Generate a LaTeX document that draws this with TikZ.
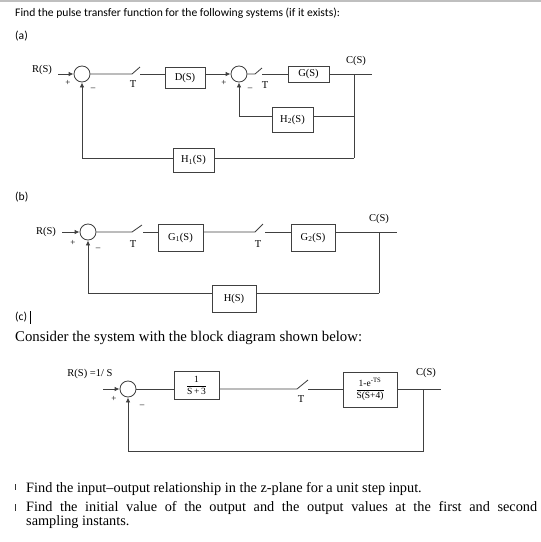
\documentclass[tikz,border=0pt]{standalone}
\usepackage{fontspec}
\setmainfont{Liberation Serif}
\newfontfamily\calfont{Carlito}
\usetikzlibrary{arrows.meta}
\begin{document}
\begin{tikzpicture}[x=1pt,y=-1pt,
 wire/.style={draw=black!75, line width=0.85pt},
 arr/.style={wire, -{Latex[length=5pt,width=4.5pt]}},
 blk/.style={draw=black!75, line width=0.85pt, inner sep=0pt, font=\fontsize{10.5}{11}\selectfont},
 sumc/.style={draw=black!75, line width=0.85pt, circle, minimum size=16pt, inner sep=0pt},
 lbl/.style={font=\fontsize{10.5}{12}\selectfont, inner sep=0pt},
 sgn/.style={font=\fontsize{9}{10}\selectfont, inner sep=0pt},
 caltext/.style={font=\calfont\fontsize{11.6}{13}\selectfont, anchor=base west, inner sep=0pt},
 bodytext/.style={font=\fontsize{14.3}{13.8}\selectfont, anchor=base west, inner sep=0pt}]
\useasboundingbox (0,0) rectangle (541,542);
\fill[black!25] (0,0) rectangle (541,2);

% ---------- header ----------
\node[caltext] (hdr) at (15,16.5) {Find the pulse transfer function for the following systems (if it exists):};
\node[caltext] (la) at (15,39) {(a)};

% ---------- diagram (a) ----------
\node[lbl] (Ra) at (42,70) {R(S)};
\coordinate (ina) at (58,74);
\node[sumc] (s1) at (82,74) {};
\node[sgn] (p1) at (68,83) {+};
\node[sgn] (m1) at (93,89) {--};
\coordinate (swa1) at (132,74);
\coordinate (swa1t) at (140,67);
\coordinate (swa1r) at (140,74);
\node[lbl] (Ta1) at (133,84) {T};
\node[blk, minimum width=40pt, minimum height=21pt] (D) at (185,77.5) {D(S)};
\node[sumc] (s2) at (239,74) {};
\node[sgn] (p2) at (224,83) {+};
\node[sgn] (m2) at (250,89) {--};
\coordinate (swa2) at (255,74);
\coordinate (swa2t) at (262,68);
\coordinate (swa2r) at (262,74);
\node[lbl] (Ta2) at (265,85) {T};
\node[blk, minimum width=41pt, minimum height=16pt] (G) at (308.5,74) {G(S)};
\coordinate (outa) at (372,74);
\coordinate (ja) at (354,74);
\coordinate (jb) at (354,116);
\coordinate (jc) at (354,158);
\node[lbl] (Ca) at (356,61) {C(S)};
\node[blk, minimum width=41pt, minimum height=25pt] (H2) at (292.5,119.5) {H\textsubscript{2}(S)};
\node[blk, minimum width=41pt, minimum height=24pt] (H1) at (193.5,160) {H\textsubscript{1}(S)};
\coordinate (fb2) at (239,116);
\coordinate (fb1) at (82,158);

\draw[arr] (ina) -- (s1);
\draw[wire] (s1) -- (swa1) -- (swa1t);
\draw[wire] (swa1r) -- (swa1r -| D.west);
\draw[arr] (D.east |- swa1r) -- (s2);
\draw[wire] (s2) -- (swa2) -- (swa2t);
\draw[wire] (swa2r) -- (G.west);
\draw[wire] (G.east) -- (outa);
\draw[wire] (ja) -- (jc);
\draw[wire] (jb) -- (jb -| H2.east);
\draw[wire] (H2.west |- jb) -- (fb2);
\draw[arr] (fb2) -- (s2);
\draw[wire] (jc) -- (jc -| H1.east);
\draw[wire] (H1.west |- jc) -- (fb1);
\draw[arr] (fb1) -- (s1);

% ---------- diagram (b) ----------
\node[caltext] (lb) at (15,200) {(b)};
\node[lbl] (Rb) at (46,232) {R(S)};
\coordinate (inb) at (62,232);
\node[sumc] (s3) at (88,232) {};
\node[sgn] (p3) at (73,243) {+};
\node[sgn] (m3) at (98,249) {--};
\coordinate (swb1) at (132,232);
\coordinate (swb1t) at (142,225);
\coordinate (swb1r) at (143,232);
\node[lbl] (Tb1) at (133,244) {T};
\node[blk, minimum width=45pt, minimum height=27pt] (G1) at (180.5,237.5) {G\textsubscript{1}(S)};
\coordinate (swb2) at (255,232);
\coordinate (swb2t) at (263,224);
\coordinate (swb2r) at (265,232);
\node[lbl] (Tb2) at (258,244) {T};
\node[blk, minimum width=44pt, minimum height=27pt] (G2) at (313,237.5) {G\textsubscript{2}(S)};
\coordinate (outb) at (397,232);
\coordinate (jd) at (379,232);
\coordinate (je) at (379,293);
\node[lbl] (Cb) at (379,219) {C(S)};
\node[blk, minimum width=44pt, minimum height=27pt] (H) at (234,298.5) {H(S)};
\coordinate (fb3) at (88,293);

\draw[arr] (inb) -- (s3);
\draw[wire] (s3) -- (swb1) -- (swb1t);
\draw[wire] (swb1r) -- (swb1r -| G1.west);
\draw[wire] (G1.east |- swb1r) -- (swb2) -- (swb2t);
\draw[wire] (swb2r) -- (swb2r -| G2.west);
\draw[wire] (G2.east |- swb2r) -- (outb);
\draw[wire] (jd) -- (je);
\draw[wire] (je) -- (je -| H.east);
\draw[wire] (H.west |- je) -- (fb3);
\draw[arr] (fb3) -- (s3);

% ---------- (c) ----------
\node[caltext] (lc) at (15,320) {(c)};
\draw[black, line width=0.7pt] (30.5,311) -- (30.5,323.5);
\node[bodytext, font=\fontsize{14.8}{15}\selectfont] (cons) at (15,341) {Consider the system with the block diagram shown below:};

\node[lbl] (Rc) at (90,374) {R(S) =1/ S};
\coordinate (inc) at (103,389);
\node[sumc] (s4) at (128,389) {};
\node[sgn] (p4) at (114,399) {+};
\node[sgn] (m4) at (142,406) {--};
\node[blk, minimum width=45pt, minimum height=28pt] (C1) at (196.5,385)
  {\fontsize{9.5}{10}\selectfont$\displaystyle\frac{\mbox{1}}{\mbox{S\,+\,3}}$};
\coordinate (swc) at (297,389);
\coordinate (swct) at (308,380);
\coordinate (swcr) at (308,389);
\node[lbl] (Tc) at (301,399) {T};
\node[blk, minimum width=54pt, minimum height=35pt] (C2) at (370,389.5)
  {\fontsize{9.5}{10}\selectfont$\displaystyle\frac{\mbox{1-e\textsuperscript{-TS}}}{\mbox{S(S+4)}}$};
\coordinate (outc) at (441,389);
\coordinate (jf) at (423,389);
\coordinate (jg) at (423,451);
\node[lbl] (Cc) at (426,373) {C(S)};
\coordinate (fb4) at (128,451);

\draw[arr] (inc) -- (s4);
\draw[wire] (s4) -- (s4 -| C1.west);
\draw[wire] (C1.east |- s4) -- (swc) -- (swct);
\draw[wire] (swcr) -- (C2.west |- swcr);
\draw[wire] (C2.east |- swcr) -- (outc);
\draw[wire] (jf) -- (jg) -- (fb4);
\draw[arr] (fb4) -- (s4);

% ---------- questions ----------
\draw[black!80, line width=0.6pt] (15,484) -- (15,490);
\draw[black!80, line width=0.8pt] (15,504) -- (15,511);
\node[bodytext] (q1) at (26,492) {Find the input–output relationship in the z-plane for a unit step input.};
\node[bodytext, anchor=north west] (q2) at (26,501.5) {\parbox[t]{511pt}{\setlength\parindent{0pt}\fontsize{14.3}{13.8}\selectfont Find the initial value of the output and the output values at the first and second\linebreak sampling instants.}};
\end{tikzpicture}
\end{document}
